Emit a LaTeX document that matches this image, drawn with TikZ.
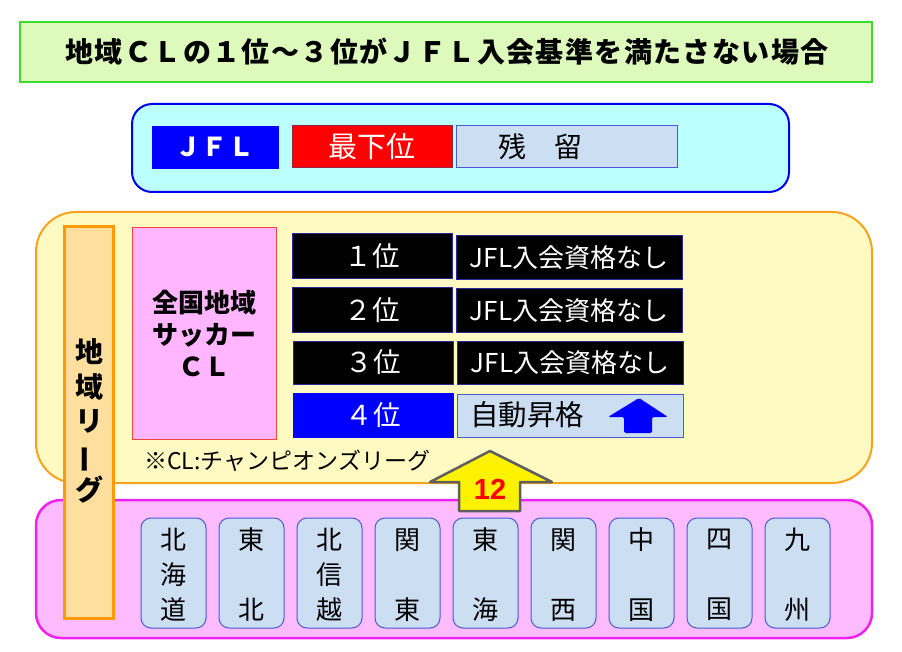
\documentclass[tikz,border=0pt]{standalone}
\usepackage{fontspec}
\setmainfont{Noto Sans CJK JP}
\newfontfamily\arialfont{Liberation Sans}
\definecolor{titlefill}{HTML}{DDF9BB}
\definecolor{titledraw}{HTML}{3CDC2C}
\definecolor{cyanfill}{HTML}{BBFFFF}
\definecolor{cyandraw}{HTML}{0000EE}
\definecolor{lbfill}{HTML}{CCDFF2}
\definecolor{lbdraw}{HTML}{4A5AD0}
\definecolor{ylfill}{HTML}{FFFAC2}
\definecolor{ordraw}{HTML}{F7A21E}
\definecolor{barfill}{HTML}{FFDF9E}
\definecolor{bardraw}{HTML}{FF9A00}
\definecolor{clfill}{HTML}{FFB6FF}
\definecolor{cldraw}{HTML}{EE4444}
\definecolor{pkfill}{HTML}{FFBBFF}
\definecolor{pkdraw}{HTML}{EE22EE}
\definecolor{rankdraw}{HTML}{2A2AA0}
\definecolor{reddraw}{HTML}{992244}
\definecolor{arrgray}{HTML}{5F5F5F}
\begin{document}
\begin{tikzpicture}[x=1pt,y=-1pt,
  box/.style={anchor=north west, inner sep=0pt, outer sep=0pt},
  rankbox/.style={box, fill=black, draw=rankdraw, line width=1pt, text=white, font=\fontsize{27.5}{30}\selectfont},
  qualbox/.style={box, fill=black, draw=rankdraw, line width=1pt, text=white, font=\fontsize{26}{30}\selectfont},
  regbox/.style={box, fill=lbfill, draw=lbdraw, line width=1pt, rounded corners=10pt, minimum width=65pt, minimum height=110pt},
  regtext/.style={align=center, font=\fontsize{26}{35}\selectfont, inner sep=0pt},
]
\useasboundingbox (0,0) rectangle (902,652);

% title
\node[box, fill=titlefill, draw=titledraw, line width=2pt, minimum width=852pt, minimum height=60pt] (title) at (20,22) {};
\node[font=\fontsize{28}{32}\bfseries\selectfont, inner sep=0pt] (titletext) at (447,52) {\addfontfeature{LetterSpace=5}地域ＣＬの１位～３位がＪＦＬ入会基準を満たさない場合};

% JFL area
\node[box, fill=cyanfill, draw=cyandraw, line width=2pt, rounded corners=20pt, minimum width=657pt, minimum height=88pt] (jflarea) at (132,104) {};
\node[box, fill=blue, draw=blue, minimum width=126pt, minimum height=42pt, text=white, font=\fontsize{26}{28}\bfseries\selectfont] (jfl) at (152,126) {\addfontfeature{LetterSpace=2}ＪＦＬ};
\node[box, fill=red, draw=reddraw, line width=1pt, minimum width=160pt, minimum height=42pt, text=white, font=\fontsize{29}{30}\selectfont] (saikai) at (292,126) {最下位};
\node[box, fill=lbfill, draw=lbdraw, line width=1pt, minimum width=221pt, minimum height=42pt] (zanbox) at (456,126) {};
\node[font=\fontsize{28}{30}\selectfont, inner sep=0pt] (zantext) at (540,147) {残　留};

% regional league area
\node[box, fill=ylfill, draw=ordraw, line width=2pt, rounded corners=40pt, minimum width=836pt, minimum height=271pt] (chiiki) at (36,212) {};
\node[box, fill=pkfill, draw=pkdraw, line width=2.5pt, rounded corners=25pt, minimum width=836pt, minimum height=138pt] (regions) at (36,500) {};

% vertical bar
\node[box, fill=barfill, draw=bardraw, line width=3pt, minimum width=49pt, minimum height=391pt] (bar) at (64,227) {};
\node[align=center, inner sep=0pt, font=\fontsize{28}{34.5}\bfseries\selectfont] (bartext) at (89,421) {地\\域\\リ\\\rotatebox[origin=c]{90}{ー}\\グ};

% CL box
\node[box, fill=clfill, draw=cldraw, line width=1pt, minimum width=144pt, minimum height=211pt] (cl) at (132,228) {};
\node[align=center, inner sep=0pt, font=\fontsize{26}{32}\bfseries\selectfont] (cltext) at (204,333) {全国地域\\サッカー\\ＣＬ};

% ranks
\node[rankbox, minimum width=160pt, minimum height=45pt] (r1) at (292,234) {１位};
\node[qualbox, minimum width=226pt, minimum height=44pt] (q1) at (456,236) {JFL入会資格なし};
\node[rankbox, minimum width=160pt, minimum height=44pt] (r2) at (292,288) {２位};
\node[qualbox, minimum width=226pt, minimum height=43pt] (q2) at (456,289) {JFL入会資格なし};
\node[rankbox, minimum width=160pt, minimum height=43pt] (r3) at (293,341) {３位};
\node[qualbox, minimum width=226pt, minimum height=43pt] (q3) at (457,341) {JFL入会資格なし};
\node[rankbox, fill=blue, draw=blue, minimum width=160pt, minimum height=44pt] (r4) at (293,393) {４位};
\node[box, fill=lbfill, draw=lbdraw, line width=1pt, minimum width=226pt, minimum height=43pt] (q4) at (457,394) {};
\node[anchor=west, inner sep=0pt, font=\fontsize{28.5}{30}\selectfont] (jidou) at (470,415) {自動昇格};
\fill[blue, rounded corners=1.5pt] (639,398) -- (668,417) -- (652,417) -- (652,433) -- (624,433) -- (624,417) -- (608,417) -- cycle;

% note
\node[anchor=west, inner sep=0pt, font=\fontsize{23}{24}\selectfont] (note) at (144,461) {※CL:チャンピオンズリーグ};

% yellow arrow
\draw[fill=yellow, draw=arrgray, line width=2.5pt, line join=round] (490,451) -- (552,482) -- (520,482) -- (520,511) -- (459,511) -- (459,482) -- (430,482) -- cycle;
\node[text=red, font=\arialfont\fontsize{29}{30}\bfseries\selectfont, inner sep=0pt] (twelve) at (490,489) {12};

% regions
\foreach \i/\t in {0/{北\\海\\道},1/{東\\~\\北},2/{北\\信\\越},3/{関\\~\\東},4/{東\\~\\海},5/{関\\~\\西},6/{中\\~\\国},7/{四\\~\\国},8/{九\\~\\州}}{
  \node[regbox] (reg\i) at ({141+78*\i},518) {};
  \node[regtext] (regt\i) at ({173.5+78*\i},575) {\t};
}
\end{tikzpicture}
\end{document}
